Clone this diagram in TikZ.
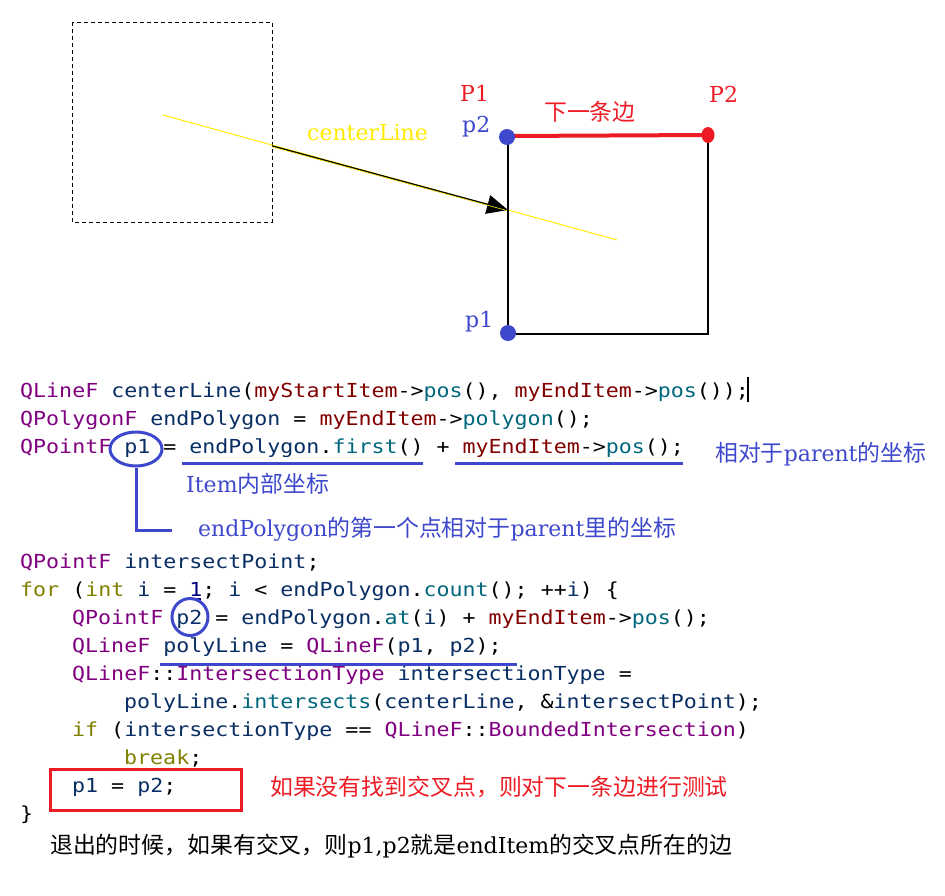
\documentclass[tikz,border=0pt]{standalone}
\usepackage{fontspec}
\setmainfont{DejaVu Serif}
\setmonofont[FakeStretch=1.12]{DejaVu Sans Mono}
\newfontfamily\cjk[Scale=1.04]{Noto Sans CJK SC}
\usetikzlibrary{arrows.meta,shapes.geometric}
\definecolor{cty}{RGB}{128,0,128}
\definecolor{ckw}{RGB}{128,128,0}
\definecolor{cfn}{RGB}{0,103,124}
\definecolor{cmb}{RGB}{128,0,0}
\definecolor{cvr}{RGB}{9,46,100}
\definecolor{cnm}{RGB}{0,0,128}
\definecolor{bluec}{RGB}{62,72,204}
\definecolor{redc}{RGB}{237,28,36}
\definecolor{yelc}{RGB}{255,235,0}
\newcommand\Qty[1]{\textcolor{cty}{#1}}
\newcommand\Qkw[1]{\textcolor{ckw}{#1}}
\newcommand\Qfn[1]{\textcolor{cfn}{#1}}
\newcommand\Qmb[1]{\textcolor{cmb}{#1}}
\newcommand\Qvr[1]{\textcolor{cvr}{#1}}
\newcommand\Qnm[1]{\textcolor{cnm}{#1}}
\begin{document}
\begin{tikzpicture}[x=1pt,y=-1pt,
  code/.style={anchor=base west, inner sep=0pt, font=\fontsize{19.3}{24}\ttfamily},
  lbl/.style={anchor=base west, inner sep=0pt, font=\fontsize{22}{26}\selectfont},
  annline/.style={draw=bluec, line width=3pt},
  annell/.style={draw=bluec, line width=3pt, ellipse, inner sep=0pt},
  bluedot/.style={circle, fill=bluec, inner sep=0pt, minimum size=16pt},
  reddot/.style={ellipse, fill=redc, inner sep=0pt, minimum width=13pt, minimum height=16pt}]
\useasboundingbox (0,0) rectangle (945,895);

% ---------- top diagram ----------
\draw[dash pattern=on 4pt off 3pt, line width=1pt] (72,22) rectangle (272,222);
\coordinate (ys) at (163,115);
\coordinate (ye) at (617,240);
\coordinate (as) at (272,146);
\coordinate (ae) at (508,210);
\draw[yelc, line width=1pt] (ys) -- (ye);
\draw[black, line width=1.6pt, -{Triangle[length=21pt,width=19pt]}] (as) -- (ae);
\draw[yelc, line width=0.6pt] ([yshift=-0.8pt]as) -- ([yshift=-0.8pt]ae);
\node[lbl, text=yelc] (cl) at (307,140) {centerLine};

\coordinate (tl) at (508,136);
\coordinate (bl) at (508,334);
\coordinate (br) at (708,334);
\coordinate (tr) at (708,135);
\draw[line width=1.2pt] (tl) -- (bl) -- (br) -- (tr);
\draw[redc, line width=4pt] (tl) -- (tr);
\node[bluedot] (p2dot) at (507,137) {};
\node[bluedot] (p1dot) at (508,333) {};
\node[reddot] (P2dot) at (708,135) {};

\node[lbl, text=redc] (P1) at (460,101) {P1};
\node[lbl, text=bluec] (p2l) at (462,132) {p2};
\node[lbl, text=redc] (edge) at (544,120) {{\cjk 下一条边}};
\node[lbl, text=redc] (P2) at (709,102) {P2};
\node[lbl, text=bluec] (p1l) at (465,327) {p1};

% ---------- code ----------
\node[code] (l1) at (20,397) {\Qty{QLineF} \Qvr{centerLine}(\Qmb{myStartItem}->\Qfn{pos}(), \Qmb{myEndItem}->\Qfn{pos}());};
\draw[line width=2pt] (748,377) -- (748,402);
\node[code] (l2) at (20,425) {\Qty{QPolygonF} \Qvr{endPolygon} = \Qmb{myEndItem}->\Qfn{polygon}();};
\node[code] (l3) at (20,453) {\Qty{QPointF} \Qvr{p1} = \Qvr{endPolygon}.\Qfn{first}() + \Qmb{myEndItem}->\Qfn{pos}();};
\node[code] (l4) at (20,568) {\Qty{QPointF} \Qvr{intersectPoint};};
\node[code] (l5) at (20,596) {\Qkw{for} (\Qkw{int} \Qvr{i} = \Qnm{1}; \Qvr{i} < \Qvr{endPolygon}.\Qfn{count}(); ++\Qvr{i}) \{};
\draw[cnm, line width=1.5pt] (187,599) -- (201,599);
\node[code] (l6) at (72,624) {\Qty{QPointF} \Qvr{p2} = \Qvr{endPolygon}.\Qfn{at}(\Qvr{i}) + \Qmb{myEndItem}->\Qfn{pos}();};
\node[code] (l7) at (72,652) {\Qty{QLineF} \Qvr{polyLine} = \Qty{QLineF}(\Qvr{p1}, \Qvr{p2});};
\node[code] (l8) at (72,680) {\Qty{QLineF}::\Qty{IntersectionType} \Qvr{intersectionType} =};
\node[code] (l9) at (124,708) {\Qvr{polyLine}.\Qfn{intersects}(\Qvr{centerLine}, \&\Qvr{intersectPoint});};
\node[code] (l10) at (72,736) {\Qkw{if} (\Qvr{intersectionType} == \Qty{QLineF}::\Qty{BoundedIntersection})};
\node[code] (l11) at (124,764) {\Qkw{break};};
\node[code] (l12) at (72,792) {\Qvr{p1} = \Qvr{p2};};
\node[code] (l13) at (20,820) {\}};

% ---------- annotations ----------
\node[annell, minimum width=52pt, minimum height=34pt] (e1) at (136,449) {};
\coordinate (c1) at (172,530);
\draw[annline] (e1.south) |- (c1);
\draw[annline] (182,463) -- (423,463);
\draw[annline] (455,463) -- (683,463);
\node[lbl, text=bluec] (t1) at (186,492) {Item{\cjk 内部坐标}};
\node[lbl, text=bluec] (t2) at (198,536) {endPolygon{\cjk 的第一个点相对于}parent{\cjk 里的坐标}};
\node[lbl, text=bluec] (t3) at (715,461) {{\cjk 相对于}parent{\cjk 的坐标}};

\node[annell, minimum width=36pt, minimum height=37pt] (e2) at (190,617) {};
\draw[annline] (160,664) -- (517,664);

\draw[redc, line width=3pt] (50,769) rectangle (241,810);
\node[lbl, text=redc] (t4) at (270,795) {{\cjk 如果没有找到交叉点，则对下一条边进行测试}};
\node[lbl, text=black] (t5) at (50,853) {{\cjk 退出的时候，如果有交叉，则}p1,p2{\cjk 就是}endItem{\cjk 的交叉点所在的边}};
\end{tikzpicture}
\end{document}
